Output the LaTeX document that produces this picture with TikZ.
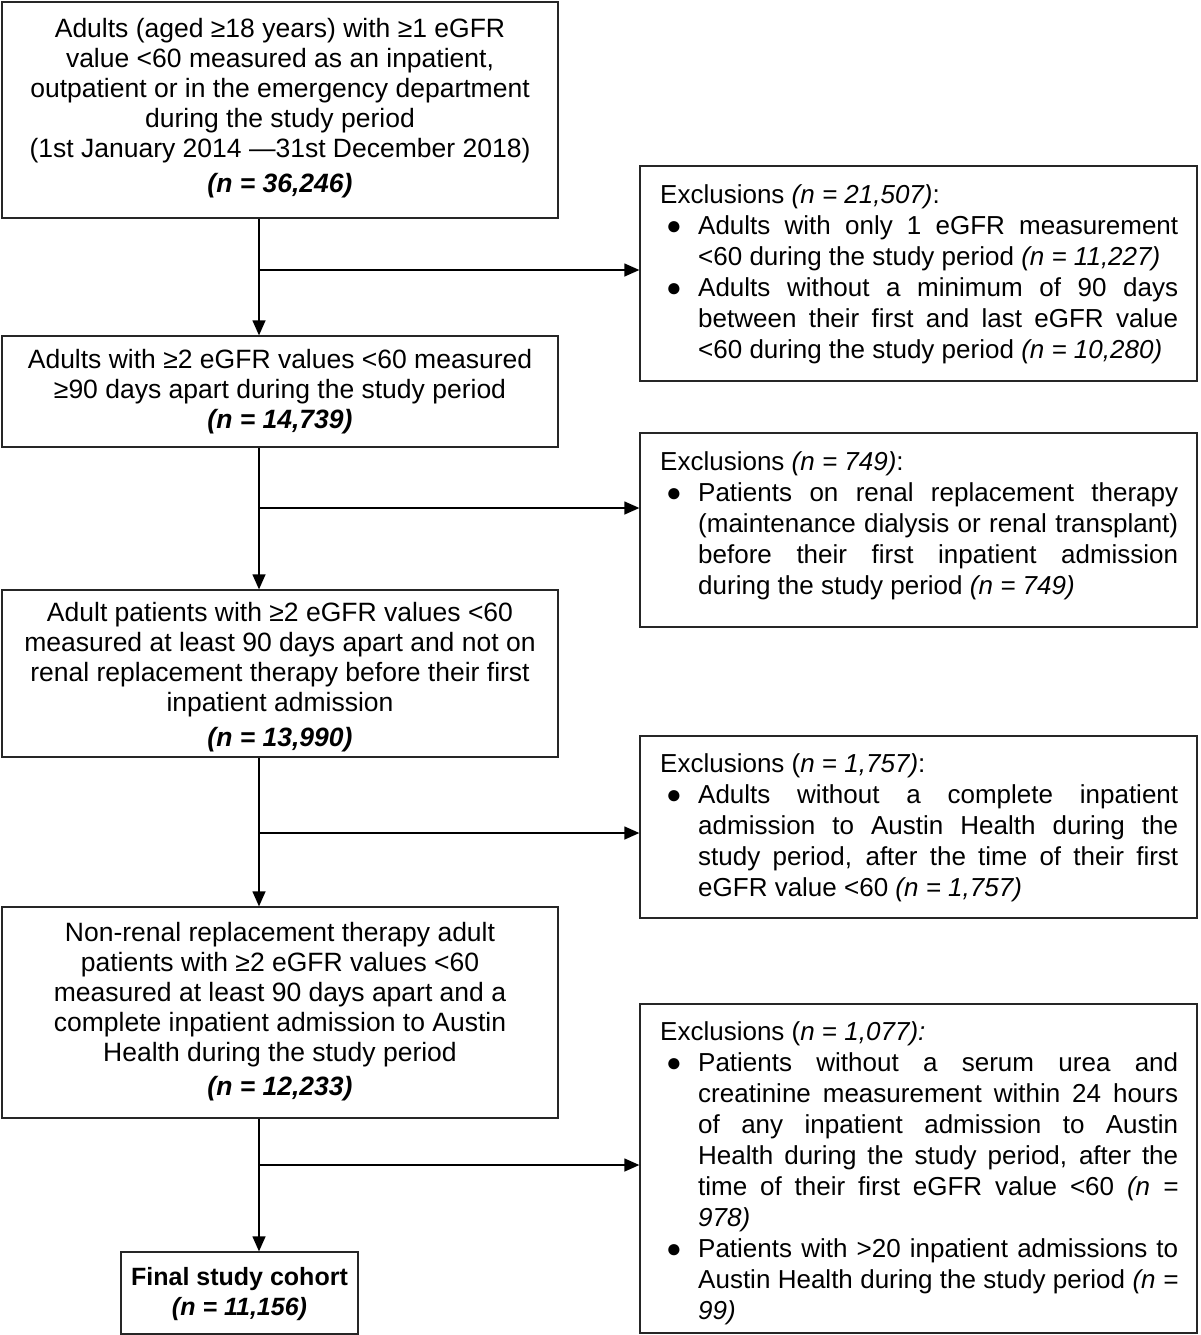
\documentclass[tikz,border=0pt]{standalone}
\usepackage{fontspec}
\setmainfont{Liberation Sans}
\usetikzlibrary{arrows.meta,calc}
\newcommand{\bitem}{\par\noindent\hangindent=38pt\hangafter=1\makebox[38pt][l]{\hspace{6pt}●}}
\newcommand{\rtext}{\fontsize{26}{31}\selectfont\tolerance=10000\hbadness=10000\hyphenpenalty=10000\exhyphenpenalty=10000\parindent=0pt\rightskip=0pt}
\begin{document}
\begin{tikzpicture}[x=1pt,y=-1pt,
  box/.style={draw=black!85,line width=1.3pt,rectangle,inner sep=0pt},
  ltxt/.style={align=center,font=\fontsize{26.5}{30}\selectfont,inner sep=0pt},
  rtxt/.style={anchor=north west,text width=518pt,align=justify,font=\rtext,inner sep=0pt},
  arr/.style={line width=1.3pt,-{Triangle[length=15pt,width=13pt]}},
  ]
\useasboundingbox (0,0) rectangle (1200,1335);
% left column boxes
\node[box,minimum width=556pt,minimum height=216pt] (b1) at (280,110) {};
\node[box,minimum width=556pt,minimum height=111pt] (b2) at (280,391.5) {};
\node[box,minimum width=556pt,minimum height=167pt] (b3) at (280,673.5) {};
\node[box,minimum width=556pt,minimum height=211pt] (b4) at (280,1012.5) {};
\node[box,minimum width=237pt,minimum height=82pt] (fin) at (239.5,1293) {};
% right column boxes
\node[box,minimum width=557pt,minimum height=215pt] (r1) at (918.5,273.5) {};
\node[box,minimum width=557pt,minimum height=194pt] (r2) at (918.5,530) {};
\node[box,minimum width=557pt,minimum height=182pt] (r3) at (918.5,827) {};
\node[box,minimum width=557pt,minimum height=329pt] (r4) at (918.5,1168.5) {};
% left texts
\node[ltxt] (t1) at (280,108) {Adults (aged ≥18 years) with ≥1 eGFR\\ value <60 measured as an inpatient,\\ outpatient or in the emergency department\\ during the study period\\ (1st January 2014 —31st December 2018)\\[5pt] \textbf{\textit{(n = 36,246)}}};
\node[ltxt] (t2) at (280,391.5) {Adults with ≥2 eGFR values <60 measured\\ ≥90 days apart during the study period\\ \textbf{\textit{(n = 14,739)}}};
\node[ltxt] (t3) at (280,677) {Adult patients with ≥2 eGFR values <60\\ measured at least 90 days apart and not on\\ renal replacement therapy before their first\\ inpatient admission\\[5pt] \textbf{\textit{(n = 13,990)}}};
\node[ltxt] (t4) at (280,1012) {Non-renal replacement therapy adult\\ patients with ≥2 eGFR values <60\\ measured at least 90 days apart and a\\ complete inpatient admission to Austin\\ Health during the study period\\[4pt] \textbf{\textit{(n = 12,233)}}};
\node[ltxt,font=\fontsize{25}{30}\selectfont] (t5) at (239.5,1294) {\textbf{Final study cohort}\\ \textbf{\textit{(n = 11,156)}}};
% right texts
\node[rtxt] (s1) at (660,184) {Exclusions \textit{(n = 21,507)}:
\bitem Adults with only 1 eGFR measurement\linebreak <60 during the study period \textit{(n = 11,227)}
\bitem Adults without a minimum of 90 days\linebreak between their first and last eGFR value\linebreak <60 during the study period \textit{(n = 10,280)}\par};
\node[rtxt] (s2) at (660,451) {Exclusions \textit{(n = 749)}:
\bitem Patients on renal replacement therapy\linebreak (maintenance dialysis or renal transplant)\linebreak before their first inpatient admission\linebreak during the study period \textit{(n = 749)}\par};
\node[rtxt] (s3) at (660,753) {Exclusions (\textit{n} = \textit{1,757)}:
\bitem Adults without a complete inpatient\linebreak admission to Austin Health during the\linebreak study period, after the time of their first\linebreak eGFR value <60 \textit{(n = 1,757)}\par};
\node[rtxt] (s4) at (660,1021) {Exclusions (\textit{n} = \textit{1,077):}
\bitem Patients without a serum urea and\linebreak creatinine measurement within 24 hours\linebreak of any inpatient admission to Austin\linebreak Health during the study period, after the\linebreak time of their first eGFR value <60 \textit{(n =}\linebreak \textit{978)}
\bitem Patients with >20 inpatient admissions to\linebreak Austin Health during the study period \textit{(n =}\linebreak \textit{99)}\par};
% connectors
\coordinate (sp) at (259,0);
\coordinate (j1) at (259,270);
\coordinate (j2) at (259,508);
\coordinate (j3) at (259,833);
\coordinate (j4) at (259,1165);
\draw[arr] (b1.south -| sp) -- (b2.north -| sp);
\draw[arr] (j1) -- (j1 -| r1.west);
\draw[arr] (b2.south -| sp) -- (b3.north -| sp);
\draw[arr] (j2) -- (j2 -| r2.west);
\draw[arr] (b3.south -| sp) -- (b4.north -| sp);
\draw[arr] (j3) -- (j3 -| r3.west);
\draw[arr] (b4.south -| sp) -- (fin.north -| sp);
\draw[arr] (j4) -- (j4 -| r4.west);
\end{tikzpicture}
\end{document}
